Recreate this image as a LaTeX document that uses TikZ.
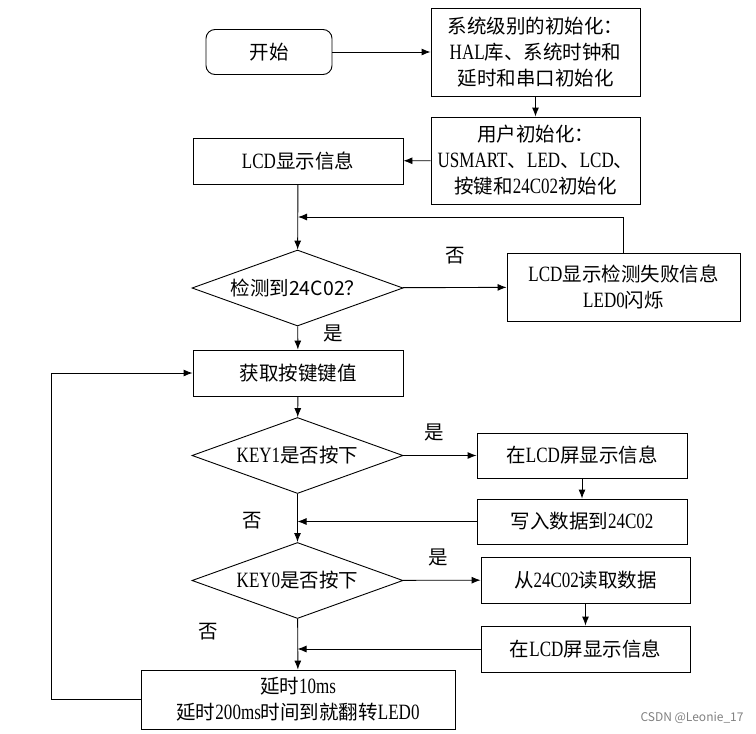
\documentclass[tikz,border=0pt]{standalone}
\usepackage{fontspec}
\setmainfont{Noto Sans CJK SC}
\newfontfamily\enfont[Scale=1.12,FakeStretch=0.78]{Liberation Serif}
\newcommand\en[1]{{\enfont #1}}
\usetikzlibrary{shapes.geometric,arrows.meta}

\begin{document}
\begin{tikzpicture}[x=1pt,y=-1pt,line width=0.9pt,>={Latex[length=9pt,width=7pt]},
 every node/.style={font=\fontsize{19.5pt}{26pt}\selectfont},
 box/.style={draw,align=center,inner sep=1pt,minimum width=210pt,minimum height=46pt},
 dia/.style={draw,diamond,aspect=2.8,inner sep=0pt,minimum width=211pt,minimum height=76pt},
 lbl/.style={inner sep=0pt}]
 \useasboundingbox (0,0) rectangle (756,734);

 \node[box,rounded corners=9pt,minimum width=126pt,minimum height=45pt] (start) at (269,52) {开始};
 \node[box,minimum width=209pt,minimum height=88pt] (sysinit) at (535.5,52) {系统级别的初始化：\\\en{HAL}库、系统时钟和\\延时和串口初始化};
 \node[box,minimum width=209pt,minimum height=87pt] (userinit) at (535.5,160.5) {用户初始化：\\\en{USMART}、\en{LED}、\en{LCD}、\\按键和\en{24C02}初始化};
 \node[box] (lcdshow) at (298,161) {\en{LCD}显示信息};
 \node[dia] (chk) at (297.5,288) {检测到24C02？};
 \node[box,minimum width=233pt,minimum height=68pt] (fail) at (623.5,287) {\en{LCD}显示检测失败信息\\\en{LED0}闪烁};
 \node[box] (getkey) at (298,373) {获取按键键值};
 \node[dia] (key1) at (297.5,455.5) {\en{KEY1}是否按下};
 \node[box,minimum height=45pt] (show1) at (582,455.5) {在\en{LCD}屏显示信息};
 \node[box,minimum height=45pt] (write) at (582,521.5) {写入数据到\en{24C02}};
 \node[dia] (key0) at (297.5,580.5) {\en{KEY0}是否按下};
 \node[box,minimum width=209pt] (read) at (585.5,580) {从\en{24C02}读取数据};
 \node[box,minimum width=209pt] (show2) at (585.5,649) {在\en{LCD}屏显示信息};
 \node[box,minimum width=314pt,minimum height=59pt] (delay) at (298,699.5) {延时\en{10ms}\\延时\en{200ms}时间到就翻转\en{LED0}};

 \node[lbl] (no1) at (455,256) {否};
 \node[lbl] (yes1) at (333,333) {是};
 \node[lbl] (yes2) at (434,432) {是};
 \node[lbl] (no2) at (252,521) {否};
 \node[lbl] (yes3) at (438,557) {是};
 \node[lbl] (no3) at (208,632) {否};
 \node[lbl,anchor=east,text=gray,font=\fontsize{12pt}{14pt}\selectfont] (mark) at (744,718) {CSDN @Leonie\_17};

 \coordinate (back) at (298,217);
 \draw[->] (start) -- (sysinit);
 \draw[->] (sysinit) -- (userinit);
 \draw[->] (userinit) -- (lcdshow);
 \draw[->] (lcdshow) -- (chk);
 \draw[->] (chk) -- (fail);
 \draw[->] (fail.north) |- (back);
 \draw[->] (chk) -- (getkey);
 \draw[->] (getkey) -- (key1);
 \draw[->] (key1) -- (show1);
 \draw[->] (show1) -- (write);
 \draw[->] (write.west) -- (key1.south |- write.west);
 \draw[->] (key1) -- (key0);
 \draw[->] (key0) -- (read);
 \draw[->] (read) -- (show2);
 \draw[->] (show2.west) -- (key0.south |- show2.west);
 \draw[->] (key0) -- (delay);
 \draw[->] (delay.west) -- ++(-89,0) |- (getkey.west);
\end{tikzpicture}
\end{document}
